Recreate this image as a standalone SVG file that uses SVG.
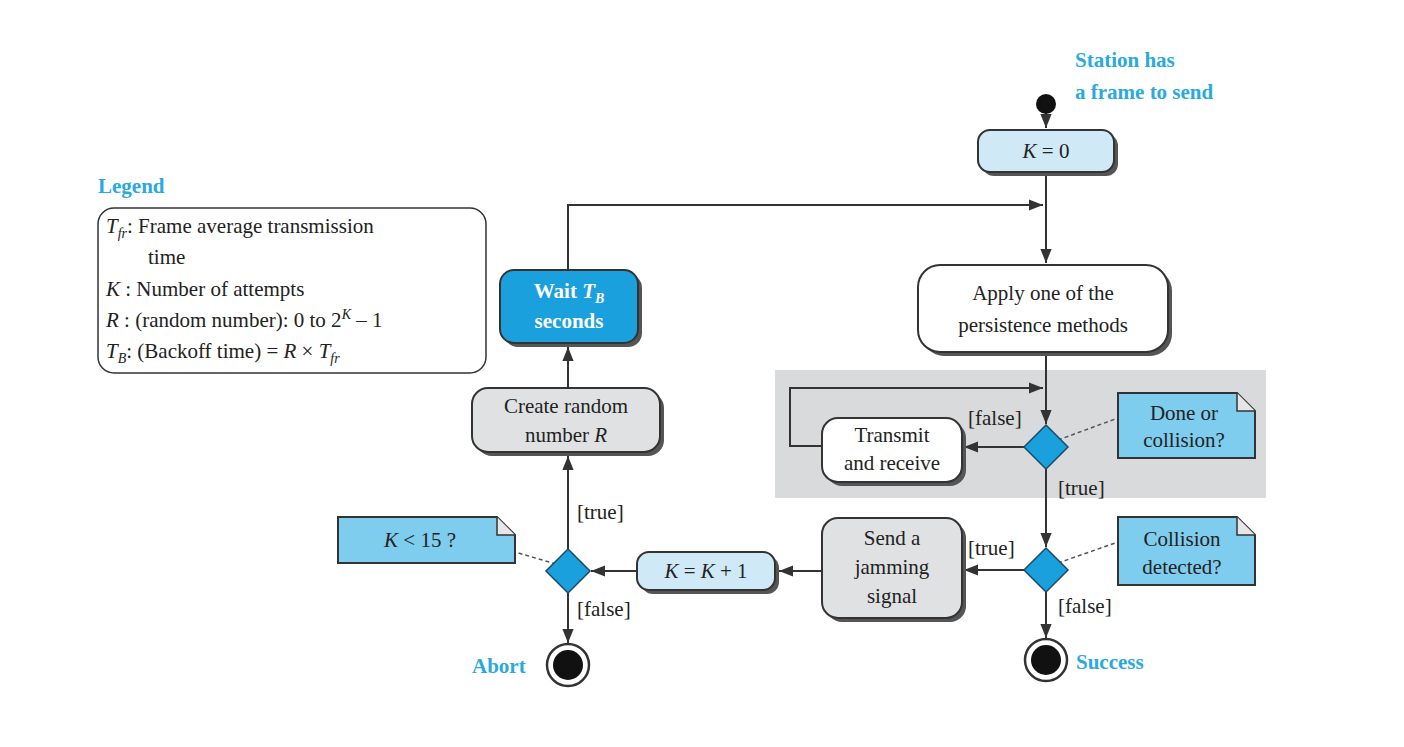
<svg xmlns="http://www.w3.org/2000/svg" width="1404" height="747" viewBox="0 0 1404 747">
<defs>
<marker id="ar" viewBox="0 0 10 10" refX="10" refY="5" markerWidth="7" markerHeight="7" orient="auto"><path d="M0,1 L10,5 L0,9 z" fill="#333"/></marker>
</defs>
<style>
text{font-family:"Liberation Serif",serif;font-size:21px;fill:#222}
.c{text-anchor:middle}
.b{stroke:#333;stroke-width:2}
.sh{fill:#555}
.ln{stroke:#333;stroke-width:2;fill:none}
.cy{fill:#29a9e0;font-weight:bold}
.dg{fill:#1aa0dc;stroke:#1b4b6b;stroke-width:1.5}
.nt{fill:#7fcdee;stroke:#333;stroke-width:2}
.dot{stroke:#555;stroke-width:1.5;stroke-dasharray:4,3}
</style>
<rect x="0" y="0" width="1404" height="747" fill="#fff"/>
<rect x="775" y="370" width="491" height="128" fill="#d9dadc"/>
<g id="connectors">
<line class="ln" x1="1046" y1="104" x2="1046" y2="128" marker-end="url(#ar)"/>
<line class="ln" x1="1046" y1="172" x2="1046" y2="263" marker-end="url(#ar)"/>
<polyline class="ln" points="568,270 568,205 1043,205" marker-end="url(#ar)"/>
<line class="ln" x1="1046" y1="352" x2="1046" y2="424" marker-end="url(#ar)"/>
<line class="ln" x1="1024" y1="447" x2="964" y2="447" marker-end="url(#ar)"/>
<polyline class="ln" points="822,446 790,446 790,388 1043,388" marker-end="url(#ar)"/>
<line class="ln" x1="1046" y1="469" x2="1046" y2="547" marker-end="url(#ar)"/>
<line class="ln" x1="1024" y1="570" x2="964" y2="570" marker-end="url(#ar)"/>
<line class="ln" x1="1046" y1="592" x2="1046" y2="638" marker-end="url(#ar)"/>
<line class="ln" x1="822" y1="571" x2="779" y2="571" marker-end="url(#ar)"/>
<line class="ln" x1="637" y1="571" x2="591" y2="571" marker-end="url(#ar)"/>
<line class="ln" x1="568" y1="549" x2="568" y2="456" marker-end="url(#ar)"/>
<line class="ln" x1="568" y1="593" x2="568" y2="643" marker-end="url(#ar)"/>
<line class="ln" x1="568" y1="388" x2="568" y2="347" marker-end="url(#ar)"/>
<line class="dot" x1="1058" y1="440" x2="1118" y2="418"/>
<line class="dot" x1="1058" y1="563" x2="1118" y2="542"/>
<line class="dot" x1="556" y1="564" x2="515" y2="552"/>
<text x="968" y="425">[false]</text>
<text x="1058" y="495">[true]</text>
<text x="968" y="555">[true]</text>
<text x="1058" y="613">[false]</text>
<text x="577" y="519">[true]</text>
<text x="577" y="616">[false]</text>
</g>
<g id="start"><circle cx="1046" cy="104" r="10" fill="#111"/>
<text class="cy" x="1075" y="67">Station has</text><text class="cy" x="1075" y="99">a frame to send</text></g>
<g id="k0"><rect x="982" y="134" width="136" height="42" rx="12" class="sh"/><rect x="978" y="130" width="136" height="42" rx="12" fill="#cfe9f7" class="b"/><text class="c" x="1046" y="158"><tspan font-style="italic">K</tspan> = 0</text></g>
<g id="apply"><rect x="922" y="269" width="250" height="87" rx="22" class="sh"/><rect x="918" y="265" width="250" height="87" rx="22" fill="#fff" class="b"/><text class="c" x="1043" y="300">Apply one of the</text><text class="c" x="1043" y="332">persistence methods</text></g>
<g id="d1"><polygon points="1046,425 1068,447 1046,469 1024,447" class="dg"/></g>
<g id="transmit"><rect x="826" y="422" width="140" height="64" rx="16" class="sh"/><rect x="822" y="418" width="140" height="64" rx="16" fill="#fff" class="b"/><text class="c" x="892" y="442">Transmit</text><text class="c" x="892" y="470">and receive</text></g>
<g id="note1"><path d="M1118,393 H1237 L1255,411 V458 H1118 Z" class="nt"/><path d="M1237,393 V411 H1255" fill="#e6e6e6" stroke="#333" stroke-width="1.5"/><text class="c" x="1184" y="420">Done or</text><text class="c" x="1184" y="447">collision?</text></g>
<g id="d2"><polygon points="1046,548 1068,570 1046,592 1024,570" class="dg"/></g>
<g id="note2"><path d="M1118,517 H1237 L1255,535 V585 H1118 Z" class="nt"/><path d="M1237,517 V535 H1255" fill="#e6e6e6" stroke="#333" stroke-width="1.5"/><text class="c" x="1182" y="546">Collision</text><text class="c" x="1182" y="574">detected?</text></g>
<g id="success"><circle cx="1046" cy="660" r="21" fill="#fff" stroke="#333" stroke-width="2.5"/><circle cx="1046" cy="660" r="15" fill="#111"/><text class="cy" x="1076" y="669">Success</text></g>
<g id="send"><rect x="826" y="522" width="140" height="100" rx="16" class="sh"/><rect x="822" y="518" width="140" height="100" rx="16" fill="#e0e1e3" class="b"/><text class="c" x="892" y="545">Send a</text><text class="c" x="892" y="574">jamming</text><text class="c" x="892" y="603">signal</text></g>
<g id="kinc"><rect x="641" y="556" width="138" height="38" rx="12" class="sh"/><rect x="637" y="552" width="138" height="38" rx="12" fill="#cfe9f7" class="b"/><text class="c" x="706" y="578"><tspan font-style="italic">K</tspan> = <tspan font-style="italic">K</tspan> + 1</text></g>
<g id="d3"><polygon points="568,549 590,571 568,593 546,571" class="dg"/></g>
<g id="note3"><path d="M338,517 H497 L515,535 V563 H338 Z" class="nt"/><path d="M497,517 V535 H515" fill="#e6e6e6" stroke="#333" stroke-width="1.5"/><text class="c" x="420" y="547"><tspan font-style="italic">K</tspan> &lt; 15 ?</text></g>
<g id="abort"><circle cx="568" cy="665" r="21" fill="#fff" stroke="#333" stroke-width="2.5"/><circle cx="568" cy="665" r="15" fill="#111"/><text class="cy" x="472" y="673">Abort</text></g>
<g id="create"><rect x="476" y="392" width="188" height="64" rx="16" class="sh"/><rect x="472" y="388" width="188" height="64" rx="16" fill="#e0e1e3" class="b"/><text class="c" x="566" y="413">Create random</text><text class="c" x="566" y="442">number <tspan font-style="italic">R</tspan></text></g>
<g id="wait"><rect x="504" y="274" width="138" height="73" rx="14" class="sh"/><rect x="500" y="270" width="138" height="73" rx="14" fill="#1aa0dc" class="b"/><text class="c" x="569" y="298" fill="#fff" font-weight="bold" style="fill:#fff">Wait <tspan font-style="italic">T</tspan><tspan font-size="14" dy="5" font-style="italic">B</tspan></text><text class="c" x="569" y="328" font-weight="bold" style="fill:#fff">seconds</text></g>
<g id="legend"><text class="cy" x="98" y="193">Legend</text>
<rect x="98" y="208" width="388" height="165" rx="16" fill="#fff" stroke="#333" stroke-width="1.5"/>
<text x="106" y="233"><tspan font-style="italic">T</tspan><tspan font-size="14" dy="5" font-style="italic">fr</tspan><tspan dy="-5">: Frame average transmission</tspan></text>
<text x="148" y="264">time</text>
<text x="106" y="296"><tspan font-style="italic">K</tspan> : Number of attempts</text>
<text x="106" y="327"><tspan font-style="italic">R</tspan> : (random number): 0 to 2<tspan font-size="14" dy="-8" font-style="italic">K</tspan><tspan dy="8"> – 1</tspan></text>
<text x="106" y="358"><tspan font-style="italic">T</tspan><tspan font-size="14" dy="5" font-style="italic">B</tspan><tspan dy="-5">: (Backoff time) = </tspan><tspan font-style="italic">R</tspan> × <tspan font-style="italic">T</tspan><tspan font-size="14" dy="5" font-style="italic">fr</tspan></text>
</g>
</svg>
